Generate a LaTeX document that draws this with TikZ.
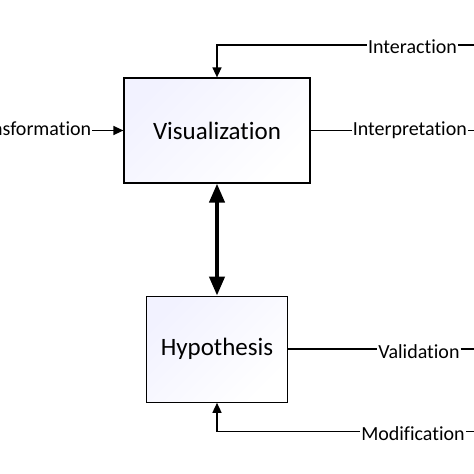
\documentclass[tikz,border=0pt]{standalone}
\usepackage{fontspec}
\setmainfont{Carlito}[Ligatures=NoCommon]
\usepackage{tikz}
\usetikzlibrary{positioning,arrows.meta}
\tikzstyle{line} = [draw,line width=1.4pt]

\begin{document}
\begin{tikzpicture}[x=1pt,y=1pt,node distance=40pt]
  \tikzstyle{block} = [draw, line width=1.2pt, top color=blue!5, bottom color=white, shading angle=45, inner sep=0pt, font=\fontsize{25}{30}\selectfont]
  \tikzstyle{lbl} = [inner sep=1pt, font=\fontsize{20}{24}\selectfont]
  \tikzstyle{hi} = [text height=18pt, text depth=0pt]
  \tikzstyle{mid} = [text height=12pt, text depth=2pt]
  \tikzstyle{arr} = [line, -{Triangle[length=10pt,width=9pt]}]
  \useasboundingbox (0,0) rectangle (474,474);
  \coordinate (rim) at (480,0);
  \node[block, minimum width=186pt, minimum height=105pt] (vis) at (217,343.5) {Visualization};
  \node[block, minimum width=141pt, minimum height=106pt] (hyp) [below=112pt of vis] {Hypothesis};
  \node[lbl, mid] (transattr) [left=31pt of vis] {Transformation};
  \node[lbl, mid] (interpattr) [right=41pt of vis] {Interpretation};
  \node[lbl, hi] (interattr) at (412.5,429) {Interaction};
  \node[lbl, hi] (validattr) [right=89pt of hyp] {Validation};
  \node[lbl, hi] (modifattr) at (413,42.5) {Modification};
  \path [arr] (transattr) -- (vis);
  \path [arr] (interattr.west) -| (vis.north);
  \path [line] (interattr.east) -- (interattr.east -| rim);
  \path [line] (vis) -- (interpattr);
  \path [line] (interpattr.east) -- (interpattr.east -| rim);
  \path [draw, line width=4pt, {Triangle[length=19pt,width=15pt]}-{Triangle[length=19pt,width=15pt]}] (vis) -- (hyp);
  \path [line] (hyp) -- (validattr);
  \path [line] (validattr.east) -- (validattr.east -| rim);
  \path [arr] (modifattr.west) -| (hyp.south);
  \path [line] (modifattr.east) -- (modifattr.east -| rim);
\end{tikzpicture}
\end{document}
